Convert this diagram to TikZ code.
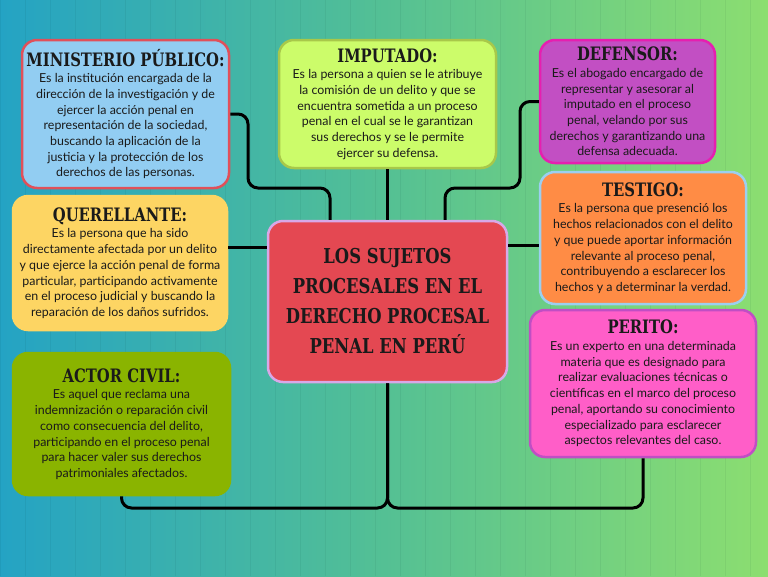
\documentclass[tikz,border=0pt]{standalone}
\usepackage{fontspec}
\setmainfont{Lato}
\newfontfamily\slab{DejaVu Serif}[FakeStretch=0.8]
\definecolor{bgl}{RGB}{36,163,196}
\definecolor{bgm}{RGB}{84,192,148}
\definecolor{bgr}{RGB}{140,222,112}
\definecolor{minf}{RGB}{146,205,242}
\definecolor{mind}{RGB}{224,80,90}
\definecolor{impf}{RGB}{204,252,106}
\definecolor{impd}{RGB}{168,200,74}
\definecolor{deff}{RGB}{194,79,195}
\definecolor{defd}{RGB}{230,31,176}
\definecolor{quef}{RGB}{253,213,99}
\definecolor{tesf}{RGB}{255,140,69}
\definecolor{tesd}{RGB}{156,207,240}
\definecolor{perf}{RGB}{255,94,200}
\definecolor{perd}{RGB}{192,78,196}
\definecolor{actf}{RGB}{138,180,0}
\definecolor{cenf}{RGB}{228,72,82}
\definecolor{cend}{RGB}{216,168,232}
\definecolor{ink}{RGB}{26,26,26}
\tikzset{
  box/.style={rounded corners=15pt, line width=2.5pt, align=center, inner sep=0pt,
    text=ink, font={\fontsize{12.4}{15.7}\selectfont}},
  conn/.style={line width=3pt, draw=black, rounded corners=10pt},
}
\newcommand{\ttl}[1]{{\slab\bfseries\fontsize{18.5}{20}\selectfont #1}\\[1pt]}
\begin{document}
\begin{tikzpicture}[x=1pt,y=-1pt]
\useasboundingbox (0,0) rectangle (768,576);
\shade[left color=bgl, right color=bgr, middle color=bgm] (0,0) rectangle (768,576);
\draw[black!70!teal, opacity=0.06, line width=0.6pt, step=25] (0,0) grid (768,576);
\node[box, fill=cenf, draw=cend, minimum width=239pt, minimum height=161pt,
  font={\slab\bfseries\fontsize{20.5}{30}\selectfont}] (cen) at (387.5,301.5)
  {LOS SUJETOS\\PROCESALES EN EL\\DERECHO PROCESAL\\PENAL EN PERÚ};
\node[box, fill=minf, draw=mind, minimum width=207pt, minimum height=148pt] (min) at (125.5,114)
  {\ttl{MINISTERIO PÚBLICO:}Es la institución encargada de la\\dirección de la investigación y de\\ejercer la acción penal en\\representación de la sociedad,\\buscando la aplicación de la\\justicia y la protección de los\\derechos de las personas.};
\node[box, fill=impf, draw=impd, minimum width=217pt, minimum height=128pt] (imp) at (387.5,104)
  {\ttl{IMPUTADO:}Es la persona a quien se le atribuye\\la comisión de un delito y que se\\encuentra sometida a un proceso\\penal en el cual se le garantizan\\sus derechos y se le permite\\ejercer su defensa.};
\node[box, fill=deff, draw=defd, minimum width=175pt, minimum height=123pt] (def) at (627.5,101.5)
  {\ttl{DEFENSOR:}Es el abogado encargado de\\representar y asesorar al\\imputado en el proceso\\penal, velando por sus\\derechos y garantizando una\\defensa adecuada.};
\node[box, fill=quef, draw=quef, minimum width=214pt, minimum height=134pt] (que) at (120,263)
  {\ttl{QUERELLANTE:}Es la persona que ha sido\\directamente afectada por un delito\\y que ejerce la acción penal de forma\\particular, participando activamente\\en el proceso judicial y buscando la\\reparación de los daños sufridos.};
\node[box, fill=tesf, draw=tesd, minimum width=206pt, minimum height=132pt] (tes) at (643,238)
  {\ttl{TESTIGO:}Es la persona que presenció los\\hechos relacionados con el delito\\y que puede aportar información\\relevante al proceso penal,\\contribuyendo a esclarecer los\\hechos y a determinar la verdad.};
\node[box, fill=perf, draw=perd, minimum width=226pt, minimum height=147pt] (per) at (643,383.5)
  {\ttl{PERITO:}Es un experto en una determinada\\materia que es designado para\\realizar evaluaciones técnicas o\\científicas en el marco del proceso\\penal, aportando su conocimiento\\especializado para esclarecer\\aspectos relevantes del caso.};
\node[box, fill=actf, draw=actf, minimum width=217pt, minimum height=142pt] (act) at (121.5,424)
  {\ttl{ACTOR CIVIL:}Es aquel que reclama una\\indemnización o reparación civil\\como consecuencia del delito,\\participando en el proceso penal\\para hacer valer sus derechos\\patrimoniales afectados.};
\draw[conn] (min.east) -- (248,114) -- (248,188) -- (330,188) -- ([xshift=-57.5pt]cen.north);
\draw[conn] (def.west) -- (520,101.5) -- (520,188) -- (445,188) -- ([xshift=57.5pt]cen.north);
\draw[conn] (imp.south) -- (cen.north);
\draw[conn] ([yshift=16pt]que.east) -- ([yshift=54.5pt]cen.west);
\draw[conn] ([yshift=-7pt]tes.west) -- ([yshift=56.5pt]cen.east);
\draw[conn] (act.south) -- (121.5,508) -- (387.5,508) -- (cen.south);
\draw[conn] (per.south) -- (643,508) -- (387.5,508) -- (cen.south);
\end{tikzpicture}
\end{document}
